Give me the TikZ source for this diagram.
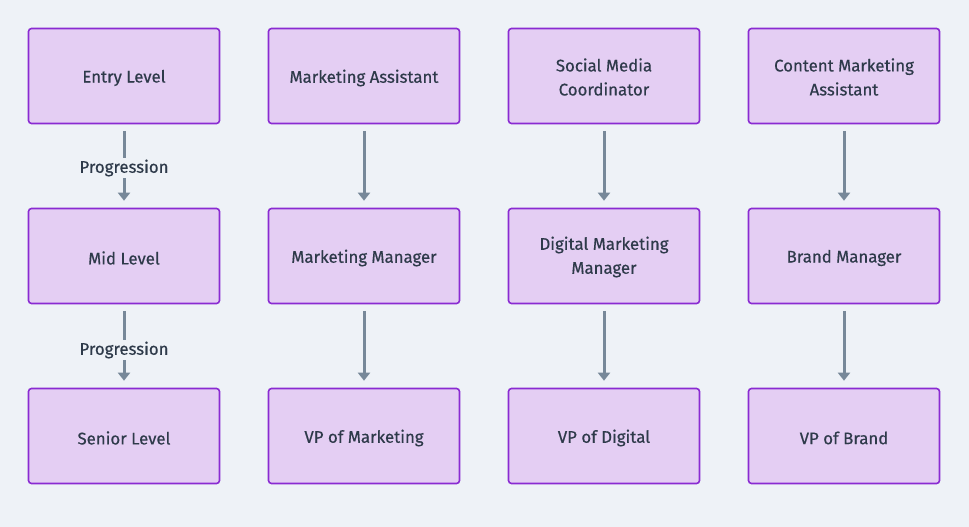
\documentclass[tikz,border=0pt]{standalone}
\usepackage{fontspec}
\setmainfont{Fira Sans}[UprightFeatures={FakeBold=0.5}]
\usetikzlibrary{arrows.meta}
\definecolor{bg}{HTML}{EEF2F7}
\definecolor{boxfill}{HTML}{E4CEF3}
\definecolor{boxline}{HTML}{8A2BD2}
\definecolor{txt}{HTML}{2E3A4A}
\definecolor{arr}{HTML}{778899}
\tikzset{
  x=1pt, y=-1pt,
  card/.style={draw=boxline, fill=boxfill, line width=1.6pt, rounded corners=3pt,
    minimum width=191pt, minimum height=95pt, inner sep=0pt},
  cardtxt/.style={text=txt, align=center, font=\fontsize{16.8}{24}\selectfont, inner sep=0pt},
  flow/.style={draw=arr, line width=3pt, -{Triangle[width=12pt,length=8pt]},
    shorten <=7pt, shorten >=7pt},
  lbl/.style={fill=bg, text=txt, font=\fontsize{16.8}{20}\selectfont, inner sep=2pt}
}
\newcommand\mycard[4]{\node[card] (#1) at (#2) {};
  \node[cardtxt] (#1t) at ([yshift=#3]#1.center) {#4};}
\begin{document}
\begin{tikzpicture}
\fill[bg] (0,0) rectangle (969,527);
\useasboundingbox (0,0) rectangle (969,527);
\mycard{e}{124,76}{-2pt}{Entry Level}
\mycard{m}{124,256}{-2pt}{Mid Level}
\mycard{s}{124,436}{-2pt}{Senior Level}
\mycard{a1}{364,76}{-2pt}{Marketing Assistant}
\mycard{a2}{364,256}{-2pt}{Marketing Manager}
\mycard{a3}{364,436}{-2pt}{VP of Marketing}
\mycard{b1}{604,76}{-1pt}{Social Media\\Coordinator}
\mycard{b2}{604,256}{-1pt}{Digital Marketing\\Manager}
\mycard{b3}{604,436}{-2pt}{VP of Digital}
\mycard{c1}{844,76}{-1pt}{Content Marketing\\Assistant}
\mycard{c2}{844,256}{-2pt}{Brand Manager}
\mycard{c3}{844,436}{-2pt}{VP of Brand}
\draw[flow] (e) -- node[lbl, yshift=-2pt] {Progression} (m);
\draw[flow] (m) -- node[lbl, yshift=-4pt] {Progression} (s);
\draw[flow] (a1) -- (a2);
\draw[flow] (a2) -- (a3);
\draw[flow] (b1) -- (b2);
\draw[flow] (b2) -- (b3);
\draw[flow] (c1) -- (c2);
\draw[flow] (c2) -- (c3);
\end{tikzpicture}
\end{document}
